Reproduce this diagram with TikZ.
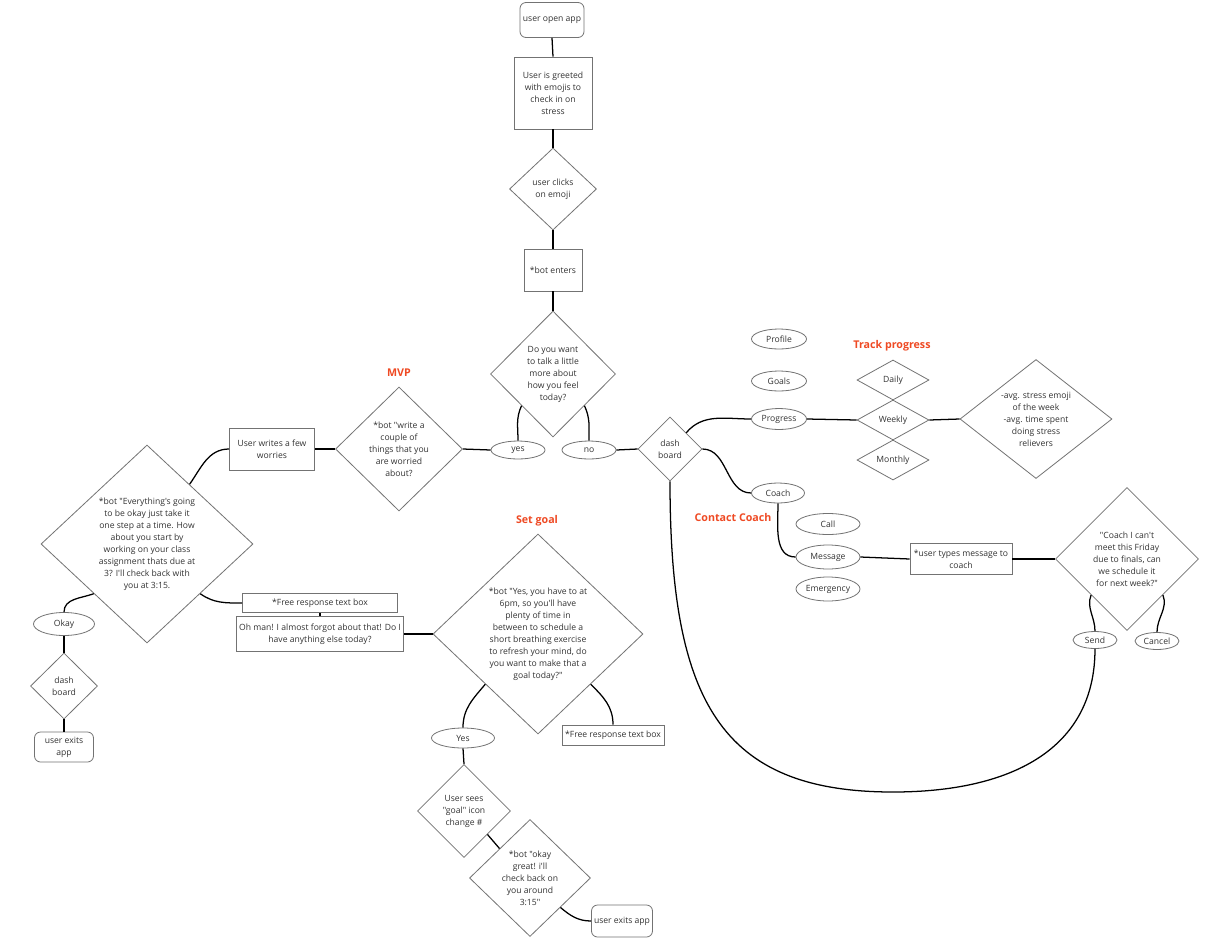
\documentclass[tikz,border=0pt]{standalone}
\usepackage{fontspec}
\setmainfont{Open Sans}[Ligatures=TeXOff]
\usetikzlibrary{shapes.geometric,calc}
\definecolor{lucred}{HTML}{EF4A24}
\definecolor{txtc}{HTML}{333333}
\tikzset{
  base/.style n args={2}{draw=black!55, line width=0.6pt, inner sep=0pt, minimum width=#1*0.75pt, minimum height=#2*0.75pt},
  rbox/.style n args={2}{base={#1}{#2}, rectangle},
  rrbox/.style n args={2}{base={#1}{#2}, rectangle, rounded corners=4.5pt},
  dbox/.style n args={2}{base={#1}{#2}, diamond},
  ebox/.style n args={2}{base={#1}{#2}, ellipse},
  txt/.style={align=center, font=\fontsize{6.45}{9}\selectfont, text=txtc, inner sep=0pt},
  hdr/.style={font=\fontsize{8}{10}\selectfont\bfseries, text=lucred, inner sep=0pt},
  conn/.style={draw=black, line width=0.95pt},
}
\begin{document}
\begin{tikzpicture}[x=0.75pt,y=0.75pt]
\useasboundingbox[fill=white] (0,0) rectangle (1222,-947);

% main column
\node[rrbox={64}{35}, label={[txt]center:{user open app}}] (open) at (552,-20) {};
\node[rbox={78}{72}, label={[txt]center:{User is greeted\\with emojis to\\check in on\\stress}}] (greet) at (553,-93) {};
\node[dbox={87}{82}, label={[txt]center:{user clicks\\on emoji}}] (click) at (553,-189) {};
\node[rbox={58}{42}, label={[txt]center:{*bot enters}}] (botin) at (553,-270) {};
\node[dbox={125}{126}, label={[txt]center:{Do you want\\to talk a little\\more about\\how you feel\\today?}}] (q) at (553,-374) {};
\node[ebox={54}{18}, label={[txt]center:{yes}}] (yes) at (518,-450) {};
\node[ebox={54}{18}, label={[txt]center:{no}}] (no) at (589,-450) {};
\node[dbox={64}{64}, label={[txt]center:{dash\\board}}] (dash) at (670,-449) {};

% MVP branch
\node[hdr] (mvplbl) at (399,-373) {MVP};
\node[dbox={127}{124}, label={[txt]center:{*bot "write a\\couple of\\things that you\\are worried\\about?}}] (mvp) at (399,-449) {};
\node[rbox={85}{42}, label={[txt]center:{User writes a few\\worries}}] (writes) at (272,-449) {};
\node[dbox={212}{198}, label={[txt]center:{*bot "Everything's going\\to be okay just take it\\one step at a time. How\\about you start by\\working on your class\\assignment thats due at\\3? I'll check back with\\you at 3:15.}}] (big) at (147,-544) {};
\node[rbox={155}{19}, label={[txt]center:{*Free response text box}}] (free) at (320,-603) {};
\node[rbox={167}{35}, label={[txt]center:{Oh man! I almost forgot about that! Do I\\have anything else today?}}] (oh) at (320,-634) {};
\node[ebox={61}{23}, label={[txt]center:{Okay}}] (okayE) at (64,-624) {};
\node[dbox={67}{66}, label={[txt]center:{dash\\board}}] (dash2) at (64,-686) {};
\node[rrbox={59}{30}, label={[txt]center:{user exits\\app}}] (exit2) at (64,-747) {};

% Set goal branch
\node[hdr] (goallbl) at (537,-521) {Set goal};
\node[dbox={210}{200}, label={[txt]center:{*bot "Yes, you have to at\\6pm, so you'll have\\plenty of time in\\between to schedule a\\short breathing exercise\\to refresh your mind, do\\you want to make that a\\goal today?"}}] (goal) at (538,-634) {};
\node[ebox={63}{20}, label={[txt]center:{Yes}}] (yes2) at (463,-738) {};
\node[rbox={102}{20}, label={[txt]center:{*Free response text box}}] (free2) at (613,-735) {};
\node[dbox={93}{93}, label={[txt]center:{User sees\\"goal" icon\\change \#}}] (sees) at (464,-811) {};
\node[dbox={121}{117}, label={[txt]center:{*bot "okay\\great! i'll\\check back on\\you around\\3:15"}}] (okdia) at (530,-878) {};
\node[rrbox={61}{32}, label={[txt]center:{user exits app}}] (exit) at (622,-921) {};

% Dashboard: progress
\node[ebox={55}{20}, label={[txt]center:{Profile}}] (profile) at (779,-339) {};
\node[ebox={55}{20}, label={[txt]center:{Goals}}] (goals) at (779,-381) {};
\node[ebox={55}{21}, label={[txt]center:{Progress}}] (progress) at (779,-419) {};
\node[hdr] (tracklbl) at (892,-346) {Track progress};
\node[dbox={72}{40}, label={[txt]center:{Daily}}] (daily) at (893,-380) {};
\node[dbox={72}{40}, label={[txt]center:{Weekly}}] (weekly) at (893,-420) {};
\node[dbox={72}{40}, label={[txt]center:{Monthly}}] (monthly) at (893,-460) {};
\node[dbox={152}{119}, label={[txt]center:{-avg. stress emoji\\of the week\\-avg. time spent\\doing stress\\relievers}}] (avg) at (1036,-419) {};

% Dashboard: coach
\node[ebox={53}{20}, label={[txt]center:{Coach}}] (coach) at (778,-493) {};
\node[hdr] (contactlbl) at (733,-517) {Contact Coach};
\node[ebox={64}{21}, label={[txt]center:{Call}}] (call) at (828,-524) {};
\node[ebox={64}{24}, label={[txt]center:{Message}}] (message) at (828,-557) {};
\node[ebox={64}{24}, label={[txt]center:{Emergency}}] (emergency) at (828,-589) {};
\node[rbox={102}{31}, label={[txt]center:{*user types message to\\coach}}] (types) at (961,-559) {};
\node[dbox={143}{143}, label={[txt]center:{"Coach I can't\\meet this Friday\\due to finals, can\\we schedule it\\for next week?"}}] (coachq) at (1127,-559) {};
\node[ebox={44}{17}, label={[txt]center:{Send}}] (send) at (1095,-640) {};
\node[ebox={44}{17}, label={[txt]center:{Cancel}}] (cancel) at (1157,-641) {};
\coordinate (loopbot) at (893,-792);

% connectors: main column
\draw[conn] (open.south) -- (greet.north);
\draw[conn] (greet.south) -- (click.north);
\draw[conn] (click.south) -- (botin.north);
\draw[conn] (botin.south) -- (q.north);
\draw[conn] ($(q.west)!0.5!(q.south)$) to[out=-115,in=90] (yes.north);
\draw[conn] ($(q.east)!0.5!(q.south)$) to[out=-65,in=90] (no.north);
\draw[conn] (no.east) -- (dash.west);

% MVP
\draw[conn] (yes.west) -- (mvp.east);
\draw[conn] (mvp.west) -- (writes.east);
\draw[conn] ($(big.north)!0.4!(big.east)$) to[out=55,in=180] (writes.west);
\draw[conn] ($(big.east)!0.5!(big.south)$) to[out=-35,in=180] (free.west);
\draw[conn] (free.south) -- (oh.north);
\draw[conn] (oh.east) -- (goal.west);
\draw[conn] ($(big.west)!0.5!(big.south)$) to[out=200,in=90] (okayE.north);
\draw[conn] (okayE.south) -- (dash2.north);
\draw[conn] (dash2.south) -- (exit2.north);

% Set goal
\draw[conn] ($(goal.west)!0.5!(goal.south)$) to[out=-130,in=90] (yes2.north);
\draw[conn] ($(goal.east)!0.5!(goal.south)$) to[out=-45,in=90] (free2.north);
\draw[conn] (yes2.south) -- (sees.north);
\draw[conn] ($(sees.east)!0.5!(sees.south)$) -- ($(okdia.north)!0.5!(okdia.west)$);
\draw[conn] ($(okdia.east)!0.5!(okdia.south)$) to[out=-40,in=180] (exit.west);

% dashboard
\draw[conn] ($(dash.north)!0.5!(dash.east)$) to[out=50,in=180] (progress.west);
\draw[conn] (progress.east) -- (weekly.west);
\draw[conn] (weekly.east) -- (avg.west);
\draw[conn] (dash.east) to[out=0,in=180] (coach.west);
\draw[conn] (coach.south) to[out=-90,in=180] (message.west);
\draw[conn] (message.east) -- (types.west);
\draw[conn] (types.east) -- (coachq.west);
\draw[conn] ($(coachq.west)!0.5!(coachq.south)$) to[out=-110,in=90] (send.north);
\draw[conn] ($(coachq.east)!0.5!(coachq.south)$) to[out=-70,in=90] (cancel.north);
\draw[conn] (dash.south) .. controls +(0,-219) and +(-173,0) .. (loopbot)
  .. controls +(117,0) and +(0,-101) .. (send.south);
\end{tikzpicture}
\end{document}
